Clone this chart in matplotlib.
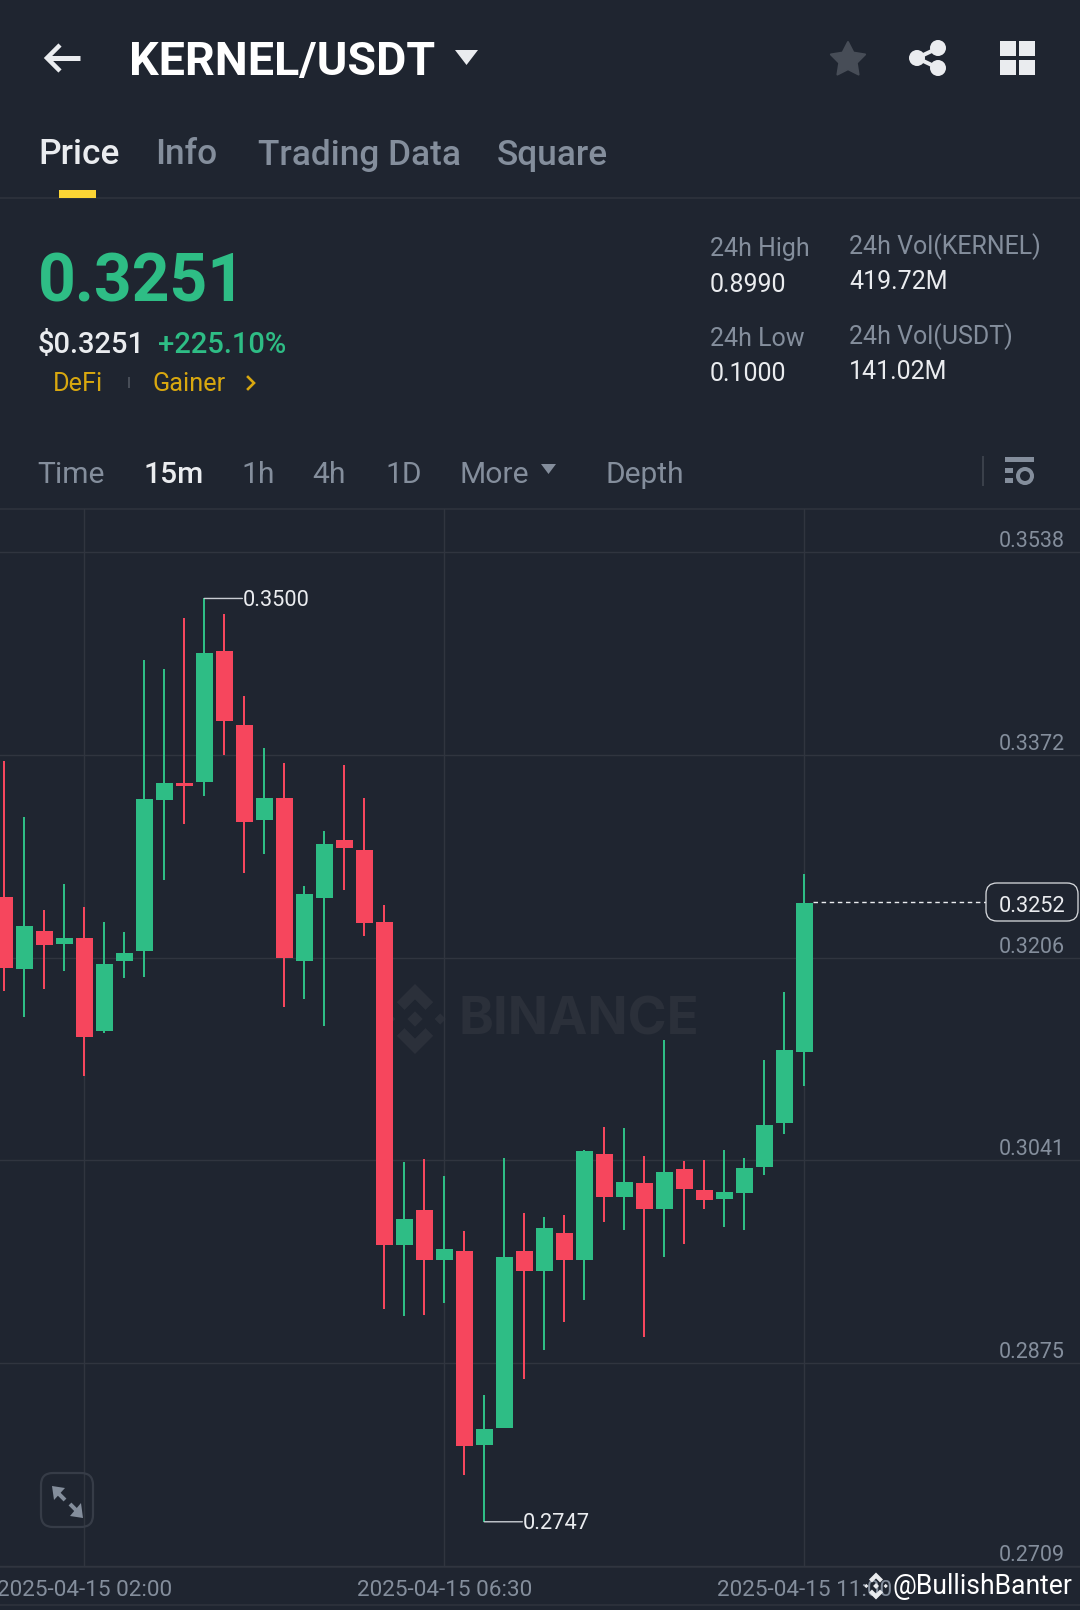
import math
import matplotlib
matplotlib.use("Agg")
import matplotlib.pyplot as plt
from matplotlib.patches import FancyBboxPatch, Polygon, Rectangle, Circle

plt.rcParams['font.family'] = ['Roboto', 'DejaVu Sans']

BG = '#1f2530'; GRID = '#30353f'; GREEN = '#2ebd85'; RED = '#f6465d'
WHITE = '#eaecef'; GRAY = '#848e9c'; YELLOW = '#d9a80f'

open_ = [0.32555,0.31968,0.32284,0.32175,0.32225,0.31463,0.32035,0.32117,0.33349,0.33490,0.33501,
         0.34567,0.33968,0.33189,0.33367,0.32035,0.32549,0.33028,0.32946,0.32354,0.29711,0.29997,
         0.29591,0.29666,0.28077,0.28218,0.29666,0.29501,0.29814,0.29591,0.30454,0.30103,0.30217,
         0.30004,0.30338,0.30165,0.30090,0.30141,0.30351,0.30713,0.31294]
high = [0.33668,0.33209,0.32453,0.32663,0.32473,0.32351,0.32272,0.34500,0.34421,0.34841,0.35000,
        0.34871,0.34199,0.33779,0.33656,0.32646,0.33095,0.33635,0.33367,0.32495,0.30389,0.30420,
        0.30279,0.29825,0.28483,0.30427,0.29976,0.29945,0.29956,0.30492,0.30678,0.30668,0.30437,
        0.31390,0.30396,0.30410,0.30489,0.30427,0.31229,0.31779,0.32747]
low = [0.31793,0.31577,0.31807,0.31954,0.31092,0.31445,0.31895,0.31907,0.32695,0.33159,0.33387,
       0.33720,0.32751,0.32908,0.31656,0.31726,0.31504,0.32616,0.32236,0.29188,0.29130,0.29140,
       0.29240,0.27836,0.27450,0.28218,0.28617,0.28851,0.29082,0.29267,0.29900,0.29832,0.28961,
       0.29611,0.29722,0.30004,0.29859,0.29839,0.30282,0.30620,0.31012]
close = [0.31977,0.32324,0.32167,0.32225,0.31416,0.32012,0.32102,0.33358,0.33487,0.33469,0.34558,
         0.34000,0.33171,0.33367,0.32059,0.32584,0.32996,0.32961,0.32348,0.29711,0.29928,0.29591,
         0.29677,0.28070,0.28211,0.29618,0.29501,0.29856,0.29591,0.30479,0.30103,0.30227,0.30004,
         0.30307,0.30172,0.30079,0.30148,0.30344,0.30695,0.31308,0.32512]
price_ticks = [0.3538, 0.3372, 0.3206, 0.3041, 0.2875, 0.2709]
date_ticks = [4, 22, 40]
date_labels = ['2025-04-15 02:00', '2025-04-15 06:30', '2025-04-15 11:00']
extreme_index = [10, 24]
extreme_labels = ['0.3500', '0.2747']
last_price = 0.3252

PX = 0.72  # points per pixel at dpi 100
fig = plt.figure(figsize=(10.8, 16.1), dpi=100, facecolor=BG)


def overlay(z):
    a = fig.add_axes([0, 0, 1, 1], zorder=z)
    a.set_xlim(0, 1080); a.set_ylim(1610, 0); a.axis('off')
    return a


back = overlay(0)
top = overlay(5)


def logo(a, cx, cy, s, color):
    def rh(x, y, r):
        a.add_patch(Polygon([(x-r, y), (x, y-r), (x+r, y), (x, y+r)], closed=True, color=color, lw=0))
    rh(cx, cy, s*0.22)
    rh(cx-s*0.72, cy, s*0.16)
    rh(cx+s*0.72, cy, s*0.16)
    a.add_patch(Polygon([(cx, cy-s), (cx+s*.52, cy-s*.48), (cx+s*.30, cy-s*.26), (cx, cy-s*.56),
                         (cx-s*.30, cy-s*.26), (cx-s*.52, cy-s*.48)], closed=True, color=color, lw=0))
    a.add_patch(Polygon([(cx, cy+s), (cx+s*.52, cy+s*.48), (cx+s*.30, cy+s*.26), (cx, cy+s*.56),
                         (cx-s*.30, cy+s*.26), (cx-s*.52, cy+s*.48)], closed=True, color=color, lw=0))


# watermark under the candles
logo(back, 415, 1019, 35, '#2b303a')
back.text(458, 1021, 'BINANCE', color='#2b303a', fontsize=38, fontweight='bold', va='center', ha='left',
          family=['Inter', 'DejaVu Sans'])

# chart axes
ax = fig.add_axes([0, (1610-1567)/1610, 1, (1567-509)/1610], zorder=2)
ax.patch.set_alpha(0)
ax.set_xlim(-0.2165, 53.78)
ax.set_ylim(0.3206-609*0.00008177, 0.3206+449*0.00008177)
for s in ax.spines.values():
    s.set_visible(False)
ax.set_axisbelow(True)
ax.grid(True, color=GRID, lw=1.4*PX)
ax.set_yticks(price_ticks)
ax.set_yticklabels([f'{v:.4f}' for v in price_ticks])
ax.set_xticks(date_ticks)
ax.set_xticklabels(date_labels)
ax.tick_params(axis='y', length=0, left=False, labelleft=False, labelright=True, pad=-15*PX,
               labelsize=15.5, labelcolor=GRAY)
ax.tick_params(axis='x', length=0, pad=13*PX, labelsize=16.2, labelcolor=GRAY)
for l in ax.get_yticklabels():
    l.set_ha('right'); l.set_va('bottom')

xs = list(range(len(open_)))
cols = [GREEN if c >= o else RED for o, c in zip(open_, close)]
ax.vlines(xs, low, high, colors=cols, lw=2*PX, capstyle='butt', zorder=3)
ax.bar(xs, [abs(c-o) for o, c in zip(open_, close)], bottom=[min(o, c) for o, c in zip(open_, close)],
       width=0.867, color=cols, lw=0, zorder=4)

for i, t, v in zip(extreme_index, extreme_labels, (high[extreme_index[0]], low[extreme_index[1]])):
    ax.annotate('', xy=(i, v), xytext=(38*PX, 0), textcoords='offset points',
                arrowprops=dict(arrowstyle='-', color='#c8ccd2', lw=1.4*PX, shrinkA=0, shrinkB=0), zorder=6)
    ax.annotate(t, xy=(i, v), xytext=(38*PX, -2*PX), textcoords='offset points', color=WHITE,
                fontsize=15.7, va='center', ha='left', zorder=6)

ax.hlines(last_price, 40.43, 49.08, colors=WHITE, lw=1.4*PX, linestyles=(0, (3.2, 2.6)), zorder=3)

# axis frame lines
for y in (198, 509, 1567, 1605):
    back.plot([0, 1080], [y, y], color='#2e333d', lw=1.6*PX)

# current price tag
top.add_patch(FancyBboxPatch((995, 892), 74, 20, boxstyle='round,pad=9,rounding_size=11',
                             fc=BG, ec='#d5d8dc', lw=1.3*PX))
top.text(1032, 906, f'{last_price:.4f}', color=WHITE, fontsize=15.7, ha='center', va='center')

# header
top.plot([49, 80], [58, 58], color=WHITE, lw=5*PX, solid_capstyle='butt')
top.plot([60, 47, 60], [45, 58, 71], color=WHITE, lw=4.5*PX, solid_joinstyle='miter', solid_capstyle='butt')
top.text(129, 62, 'KERNEL/USDT', color='white', fontsize=33.6, fontweight='bold', va='center', ha='left')
top.add_patch(Polygon([(455, 50), (478, 50), (466.5, 65)], closed=True, color=WHITE, lw=0))
star = []
for k in range(10):
    r = 18 if k % 2 == 0 else 9.2
    ang = -math.pi/2 + k*math.pi/5
    star.append((848 + r*math.cos(ang), 60 + r*math.sin(ang)))
top.add_patch(Polygon(star, closed=True, fc='#474d57', ec='#474d57', lw=2*PX, joinstyle='round'))
for p, q in (((938, 48), (917, 58)), ((917, 58), (938, 68))):
    top.plot([p[0], q[0]], [p[1], q[1]], color=WHITE, lw=4*PX)
for c, r in (((938, 48), 8), ((917, 58), 8), ((938, 68), 8)):
    top.add_patch(Circle(c, r, color=WHITE, lw=0))
for x in (1000, 1019):
    for y in (41, 60):
        top.add_patch(Rectangle((x, y), 15.5, 15.5, color=WHITE, lw=0))

# tabs
for x, t, c, in ((38, 'Price', WHITE), (155, 'Info', GRAY), (258, 'Trading Data', GRAY), (497, 'Square', GRAY)):
    top.text(x, 155, t, color=c, fontsize=25.4, fontweight='medium', va='center', ha='left')
top.add_patch(Rectangle((59, 190), 37, 8, color='#fcd535', lw=0))

# price block
top.text(38, 283, '0.3251', color=GREEN, fontsize=47.5, fontweight='bold', va='center', ha='left')
top.text(38, 345, '$0.3251', color=WHITE, fontsize=21, fontweight='medium', va='center', ha='left')
top.text(158, 345, '+225.10%', color=GREEN, fontsize=21, fontweight='medium', va='center', ha='left')
top.text(53, 384, 'DeFi', color=YELLOW, fontsize=18.2, va='center', ha='left')
top.add_patch(Rectangle((127.5, 377), 2, 11, color='#474d57', lw=0))
top.text(153, 384, 'Gainer', color=YELLOW, fontsize=18.2, va='center', ha='left')
top.plot([248, 254, 248], [377, 383, 389], color=YELLOW, lw=2.6*PX, solid_joinstyle='miter')

# stats block
for x, y, t, c in ((710, 249, '24h High', GRAY), (849, 247, '24h Vol(KERNEL)', GRAY),
                   (710, 285, '0.8990', WHITE), (849, 282, '419.72M', WHITE),
                   (710, 339, '24h Low', GRAY), (849, 337, '24h Vol(USDT)', GRAY),
                   (710, 374, '0.1000', WHITE), (849, 372, '141.02M', WHITE)):
    top.text(x, y, t, color=c, fontsize=18, va='center', ha='left')

# toolbar
for x, t, c, w in ((37, 'Time', GRAY, 'normal'), (144, '15m', WHITE, 'medium'), (241, '1h', GRAY, 'normal'),
                   (312, '4h', GRAY, 'normal'), (385, '1D', GRAY, 'normal'), (460, 'More', GRAY, 'normal'),
                   (606, 'Depth', GRAY, 'normal')):
    top.text(x, 474.5, t, color=c, fontsize=21.6, fontweight=w, va='center', ha='left')
top.add_patch(Polygon([(541, 464), (556, 464), (548.5, 474)], closed=True, color=GRAY, lw=0))
top.plot([983, 983], [457, 485], color='#3a404a', lw=2*PX)
top.add_patch(Rectangle((1005, 457), 29, 5, color=GRAY, lw=0))
top.add_patch(Rectangle((1005, 468), 8, 5, color=GRAY, lw=0))
top.add_patch(Rectangle((1005, 478), 8, 5, color=GRAY, lw=0))
top.add_patch(Circle((1025, 476), 7, fc=BG, ec=GRAY, lw=4*PX))

# expand button
top.add_patch(FancyBboxPatch((51, 1483), 32, 34, boxstyle='round,pad=10,rounding_size=12',
                             fc='none', ec='#363c47', lw=2.2*PX))
top.add_patch(Polygon([(52, 1486), (65, 1488), (54, 1500)], closed=True, color=GRAY, lw=0))
top.add_patch(Polygon([(83, 1518), (70, 1516), (81, 1503)], closed=True, color=GRAY, lw=0))
top.plot([58, 65], [1493, 1500], color=GRAY, lw=4*PX, solid_capstyle='butt')
top.plot([77, 70], [1511, 1504], color=GRAY, lw=4*PX, solid_capstyle='butt')

# share watermark
logo(top, 876, 1586, 13.5, WHITE)
top.text(893, 1586, '@BullishBanter', color='white', fontsize=19.1, va='center', ha='left')

fig.savefig('out.png', dpi=100, facecolor=BG)
